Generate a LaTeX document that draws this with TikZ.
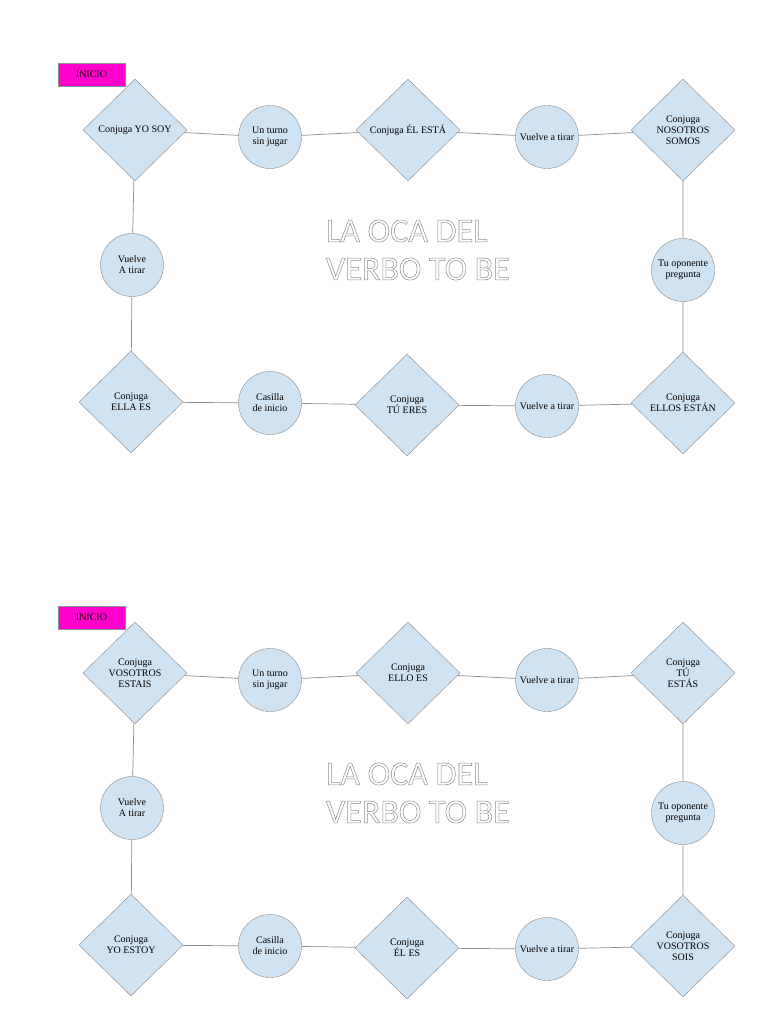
\documentclass[tikz,border=0pt]{standalone}
\usepackage{fontspec}
\setmainfont{Liberation Serif}
\newfontfamily\titlefont{Carlito}
\usetikzlibrary{shapes.geometric}
\definecolor{cellblue}{RGB}{207,227,243}
\definecolor{edgegray}{RGB}{140,140,140}
\definecolor{inicio}{RGB}{255,0,204}
\tikzset{
 cell/.style={draw=edgegray,fill=cellblue,font=\fontsize{10}{11}\selectfont,align=center,inner sep=0pt},
 dia/.style={cell,diamond,minimum width=104pt,minimum height=102pt},
 circ/.style={cell,circle,minimum size=63pt},
 link/.style={draw=edgegray,line width=0.7pt},
 startbox/.style={draw=edgegray,fill=inicio,minimum width=67pt,minimum height=23pt,inner sep=0pt,font=\fontsize{10}{11}\selectfont},
 titletext/.style={font=\titlefont\fontsize{34}{38}\selectfont,align=left,text=white}
}
\newcommand{\outlined}[1]{\special{pdf:literal 1 Tr 0.5 w 0.55 0.55 0.55 RG}#1\special{pdf:literal 0 Tr}}
\begin{document}
\begin{tikzpicture}[x=1pt,y=-1pt]
\useasboundingbox (0,0) rectangle (768,1024);
\fill[white] (0,0) rectangle (768,1024);
% board 1
\node[startbox] (s1) at (91.5,74.5) {INICIO};
\node[dia] (a1) at (135,130) {Conjuga YO SOY};
\node[circ] (a2) at (270,137) {Un turno\\sin jugar};
\node[dia] (a3) at (408,130) {Conjuga ÉL ESTÁ};
\node[circ] (a4) at (547,137) {Vuelve a tirar};
\node[dia] (a5) at (683,130) {Conjuga\\NOSOTROS\\SOMOS};
\node[circ] (a6) at (683,270) {Tu oponente\\pregunta};
\node[dia] (a7) at (683,403) {Conjuga\\ELLOS ESTÁN};
\node[circ] (a8) at (547,406) {Vuelve a tirar};
\node[dia] (a9) at (407,405) {Conjuga\\TÚ ERES};
\node[circ] (a10) at (270,403) {Casilla\\de inicio};
\node[dia] (a11) at (131,402) {Conjuga\\ELLA ES};
\node[circ] (a12) at (132,265) {Vuelve\\A tirar};
\draw[link] (a1) -- (a2) (a2) -- (a3) (a3) -- (a4) (a4) -- (a5) (a5) -- (a6) (a6) -- (a7) (a7) -- (a8) (a8) -- (a9) (a9) -- (a10) (a10) -- (a11) (a11) -- (a12) (a12) -- (a1);
\node[titletext] (t1) at (418,250) {\outlined{LA OCA DEL}\\\outlined{VERBO TO BE}};
% board 2
\node[startbox] (s2) at (91.5,617.5) {INICIO};
\node[dia] (b1) at (135,673) {Conjuga\\VOSOTROS\\ESTAIS};
\node[circ] (b2) at (270,680) {Un turno\\sin jugar};
\node[dia] (b3) at (408,673) {Conjuga\\ELLO ES};
\node[circ] (b4) at (547,680) {Vuelve a tirar};
\node[dia] (b5) at (683,673) {Conjuga\\TÚ\\ESTÁS};
\node[circ] (b6) at (683,813) {Tu oponente\\pregunta};
\node[dia] (b7) at (683,946) {Conjuga\\VOSOTROS\\SOIS};
\node[circ] (b8) at (547,949) {Vuelve a tirar};
\node[dia] (b9) at (407,948) {Conjuga\\ÉL ES};
\node[circ] (b10) at (270,946) {Casilla\\de inicio};
\node[dia] (b11) at (131,945) {Conjuga\\YO ESTOY};
\node[circ] (b12) at (132,808) {Vuelve\\A tirar};
\draw[link] (b1) -- (b2) (b2) -- (b3) (b3) -- (b4) (b4) -- (b5) (b5) -- (b6) (b6) -- (b7) (b7) -- (b8) (b8) -- (b9) (b9) -- (b10) (b10) -- (b11) (b11) -- (b12) (b12) -- (b1);
\node[titletext] (t2) at (418,793) {\outlined{LA OCA DEL}\\\outlined{VERBO TO BE}};
\end{tikzpicture}
\end{document}
